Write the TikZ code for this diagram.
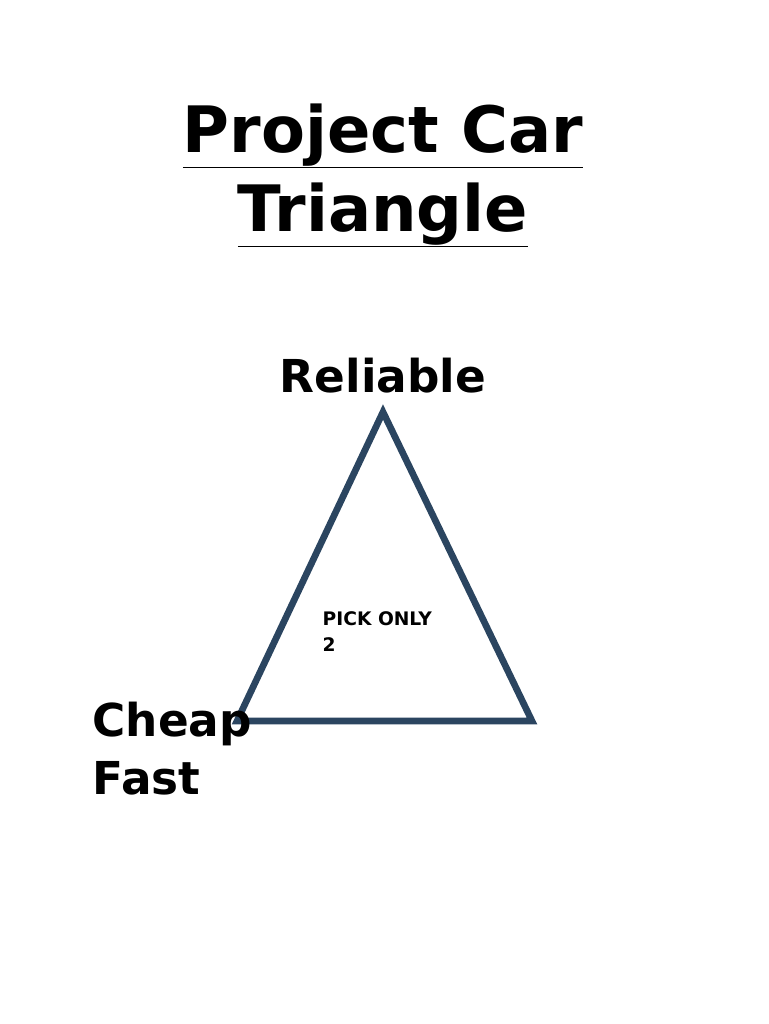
\documentclass[tikz,border=0pt]{standalone}
\usepackage{fontspec}
\setmainfont{DejaVu Sans}
\definecolor{triblue}{HTML}{2B4560}
\tikzset{
  bigtitle/.style={font=\fontsize{48}{60}\selectfont\bfseries, anchor=base},
  cornerlabel/.style={font=\fontsize{34}{42}\selectfont\bfseries},
  smalllabel/.style={font=\fontsize{14}{19}\selectfont\bfseries, anchor=base west}
}
\begin{document}
\begin{tikzpicture}[x=0.75pt,y=-0.75pt]
    \useasboundingbox (0,0) rectangle (768,1024);
    % title
    \node[bigtitle] (title1) at (383,152) {\underline{Project Car}};
    \node[bigtitle] (title2) at (383,231) {\underline{Triangle}};
    % triangle
    \coordinate (top) at (383,412);
    \coordinate (left) at (237,721);
    \coordinate (right) at (532,721);
    \draw [triblue, line width=5pt, line join=miter] (top) -- (left) -- (right) -- cycle;
    % labels
    \node[cornerlabel, anchor=base] (reliable) at (383,392) {Reliable};
    \node[cornerlabel, anchor=base west] (cheap) at (88,736) {Cheap};
    \node[cornerlabel, anchor=base west] (fast) at (88,794) {Fast};
    \node[smalllabel] (pick) at (318,625) {PICK ONLY};
    \node[smalllabel] (two) at (318,651) {2};
\end{tikzpicture}
\end{document}
